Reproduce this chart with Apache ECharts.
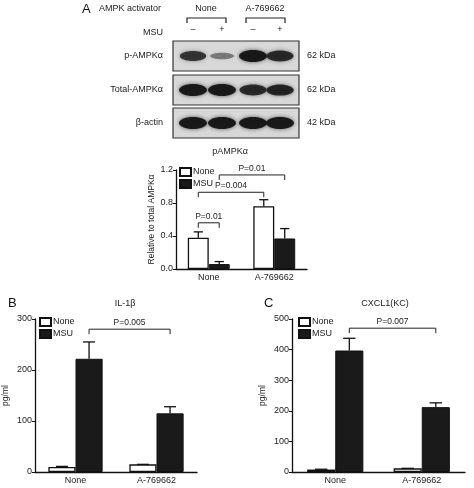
<!DOCTYPE html>
<html>
<head>
<meta charset="utf-8">
<script src="https://cdn.jsdelivr.net/npm/echarts@6/dist/echarts.min.js"></script>
<style>html,body{margin:0;padding:0;background:#fff}#main{width:474px;height:488px}</style>
</head>
<body>
<div id="main"></div>
<script>
const myChart = echarts.init(document.getElementById('main'));

// data
const groups = ['None', 'A-769662'];
const ampkNone = [0.38, 0.76];
const ampkNoneErr = [0.07, 0.08];
const ampkMsu = [0.06, 0.37];
const ampkMsuErr = [0.03, 0.12];
const il1bNone = [10, 15];
const il1bNoneErr = [1, 0];
const il1bMsu = [222, 115];
const il1bMsuErr = [33, 13];
const cxclNone = [8, 12];
const cxclNoneErr = [1, 0];
const cxclMsu = [397, 212];
const cxclMsuErr = [40, 14];
// brackets: [cat start, side start, cat end, side end, y, label]
const ampkBrackets = [[0, 0, 0, 1, 0.56, 'P=0.01'], [0, 0, 1, 0, 0.93, 'P=0.004'], [0, 1, 1, 1, 1.14, 'P=0.01']];
const il1bBrackets = [[0, 1, 1, 1, 280, 'P=0.005']];
const cxclBrackets = [[0, 1, 1, 1, 470, 'P=0.007']];
// blot band intensities per lane (None -, None +, A -, A +)
const blotRows = ['p-AMPK\u03b1', 'Total-AMPK\u03b1', '\u03b2-actin'];
const blotSizes = ['62 kDa', '62 kDa', '42 kDa'];
const blotBands = [[0.75, 0.3, 1, 0.85], [1, 1, 0.85, 0.9], [1, 1, 1, 1]];
const msuSigns = ['\u2013', '+', '\u2013', '+'];

const font = 'Liberation Sans, Arial, sans-serif';
const gaps = [0.36, 0.33, 0.35];

function errItem(gi) {
  return function (params, api) {
    const cat = api.value(0), v = api.value(1), e = api.value(2), side = api.value(3);
    const band = api.size([1, 0])[0];
    const bw = band * (1 - gaps[gi]) / 2;
    const p = api.coord([cat, v]);
    const t = api.coord([cat, v + e]);
    const x = p[0] + (side === 0 ? -bw / 2 : bw / 2);
    const cw = bw * 0.22;
    return {
      type: 'group',
      children: [
        { type: 'line', shape: { x1: x, y1: p[1], x2: x, y2: t[1] }, style: { stroke: '#111', lineWidth: 1.3 } },
        { type: 'line', shape: { x1: x - cw, y1: t[1], x2: x + cw, y2: t[1] }, style: { stroke: '#111', lineWidth: 1.3 } }
      ]
    };
  };
}

function bracketItem(gi) {
  return function (params, api) {
    const band = api.size([1, 0])[0];
    const bw = band * (1 - gaps[gi]) / 2;
    const a = api.coord([api.value(0), api.value(4)]);
    const b = api.coord([api.value(2), api.value(4)]);
    const x1 = a[0] + (api.value(1) === 0 ? -bw / 2 : bw / 2);
    const x2 = b[0] + (api.value(3) === 0 ? -bw / 2 : bw / 2);
    const y = a[1], d = 5;
    return {
      type: 'group',
      children: [
        { type: 'polyline', shape: { points: [[x1, y + d], [x1, y], [x2, y], [x2, y + d]] }, style: { stroke: '#222', lineWidth: 1, fill: null } },
        { type: 'text', x: (x1 + x2) / 2, y: y - 2, style: { text: api.value(5), fill: '#222', font: '8.5px ' + font, align: 'center', verticalAlign: 'bottom' } }
      ]
    };
  };
}

function errData(vals, errs, side) {
  return vals.map((v, i) => [i, v, errs[i], side]);
}

const grids = [
  { left: 176, top: 170, width: 131, height: 99 },
  { left: 33, top: 319, width: 164, height: 153 },
  { left: 292, top: 319, width: 173, height: 153 }
];
const yMax = [1.2, 300, 500];
const yInt = [0.4, 100, 100];
const yNames = ['Relative to total AMPK\u03b1', 'pg/ml', 'pg/ml'];
const nones = [ampkNone, il1bNone, cxclNone];
const noneErrs = [ampkNoneErr, il1bNoneErr, cxclNoneErr];
const msus = [ampkMsu, il1bMsu, cxclMsu];
const msuErrs = [ampkMsuErr, il1bMsuErr, cxclMsuErr];
const brackets = [ampkBrackets, il1bBrackets, cxclBrackets];

const series = [];
grids.forEach((g, i) => {
  series.push({
    name: 'None', type: 'bar', xAxisIndex: i, yAxisIndex: i, data: nones[i],
    barGap: 0, barCategoryGap: (gaps[i] * 100) + '%',
    itemStyle: { color: '#fff', borderColor: '#111', borderWidth: 1.3 }
  });
  series.push({
    name: 'MSU', type: 'bar', xAxisIndex: i, yAxisIndex: i, data: msus[i],
    barGap: 0, barCategoryGap: (gaps[i] * 100) + '%',
    itemStyle: { color: '#1a1a1a', borderColor: '#111', borderWidth: 1 }
  });
  series.push({
    type: 'custom', xAxisIndex: i, yAxisIndex: i, z: 5, silent: true,
    renderItem: errItem(i),
    data: errData(nones[i], noneErrs[i], 0).concat(errData(msus[i], msuErrs[i], 1))
  });
  series.push({
    type: 'custom', xAxisIndex: i, yAxisIndex: i, z: 5, silent: true,
    renderItem: bracketItem(i), data: brackets[i]
  });
});

// blot graphics
const graphic = [];
const laneX = [193, 222, 253, 280];
const rowTop = [41, 75, 108];
const rowH = 30;
const txt = (x, y, s, align, size) => ({
  type: 'text', x: x, y: y,
  style: { text: s, fill: '#222', font: (size || 9) + 'px ' + font, align: align || 'left', verticalAlign: 'middle' }
});
graphic.push({ type: 'text', x: 82, y: 9, style: { text: 'A', fill: '#111', font: '13px ' + font, verticalAlign: 'middle' } });
graphic.push(txt(99, 9, 'AMPK activator'));
graphic.push(txt(206, 9, 'None', 'center'));
graphic.push(txt(265, 9, 'A-769662', 'center'));
[[187, 226], [246, 285]].forEach(b => {
  graphic.push({ type: 'polyline', shape: { points: [[b[0], 23], [b[0], 18], [b[1], 18], [b[1], 23]] }, style: { stroke: '#222', lineWidth: 1.2, fill: null } });
});
graphic.push(txt(163, 33, 'MSU', 'right'));
msuSigns.forEach((s, i) => graphic.push(txt(laneX[i], 30, s, 'center')));
blotRows.forEach((r, ri) => {
  const y0 = rowTop[ri];
  graphic.push({ type: 'rect', shape: { x: 173, y: y0, width: 126, height: rowH }, style: { fill: '#d8d8d8', stroke: '#333', lineWidth: 1.2 } });
  blotBands[ri].forEach((v, li) => {
    graphic.push({
      type: 'ellipse',
      shape: { cx: laneX[li], cy: y0 + rowH / 2, rx: 11 + 3 * v, ry: 2 + 4 * v },
      style: { fill: 'rgba(20,20,20,' + (0.25 + 0.7 * v) + ')', shadowBlur: 4, shadowColor: 'rgba(0,0,0,' + (0.6 * v) + ')' }
    });
  });
  graphic.push(txt(163, y0 + rowH / 2, r, 'right'));
  graphic.push(txt(307, y0 + rowH / 2, blotSizes[ri]));
});
graphic.push(txt(230, 152, 'pAMPK\u03b1', 'center'));
graphic.push({ type: 'text', x: 8, y: 303, style: { text: 'B', fill: '#111', font: '13px ' + font, verticalAlign: 'middle' } });
graphic.push(txt(125, 304, 'IL-1\u03b2', 'center'));
graphic.push({ type: 'text', x: 264, y: 303, style: { text: 'C', fill: '#111', font: '13px ' + font, verticalAlign: 'middle' } });
graphic.push(txt(385, 304, 'CXCL1(KC)', 'center'));

const legendPos = [[179, 167], [39, 317], [298, 317]];

let options = {
  animation: false,
  textStyle: { fontFamily: font },
  grid: grids,
  xAxis: grids.map((g, i) => ({
    type: 'category', gridIndex: i, data: groups,
    axisLine: { lineStyle: { color: '#111', width: 1.3 } },
    axisTick: { show: false },
    axisLabel: { color: '#222', fontSize: 9, margin: 4 }
  })),
  yAxis: grids.map((g, i) => ({
    type: 'value', gridIndex: i, min: 0, max: yMax[i], interval: yInt[i],
    name: yNames[i], nameLocation: 'middle', nameGap: i === 0 ? 20 : 25,
    nameTextStyle: { color: '#222', fontSize: 8.5 },
    splitLine: { show: false },
    axisLine: { show: true, lineStyle: { color: '#111', width: 1.3 } },
    axisTick: { show: true, length: 3, lineStyle: { color: '#111' } },
    axisLabel: { color: '#222', fontSize: 9, margin: 3, formatter: i === 0 ? (v => v.toFixed(1)) : null }
  })),
  legend: legendPos.map(p => ({
    data: ['None', 'MSU'], orient: 'vertical', left: p[0], top: p[1],
    icon: 'rect', itemWidth: 11, itemHeight: 8, itemGap: 2, padding: 0,
    textStyle: { color: '#222', fontSize: 9, padding: [0, 0, 0, -3] },
    selectedMode: false
  })),
  graphic: graphic,
  series: series
};

myChart.setOption(options);
</script>
</body>
</html>
